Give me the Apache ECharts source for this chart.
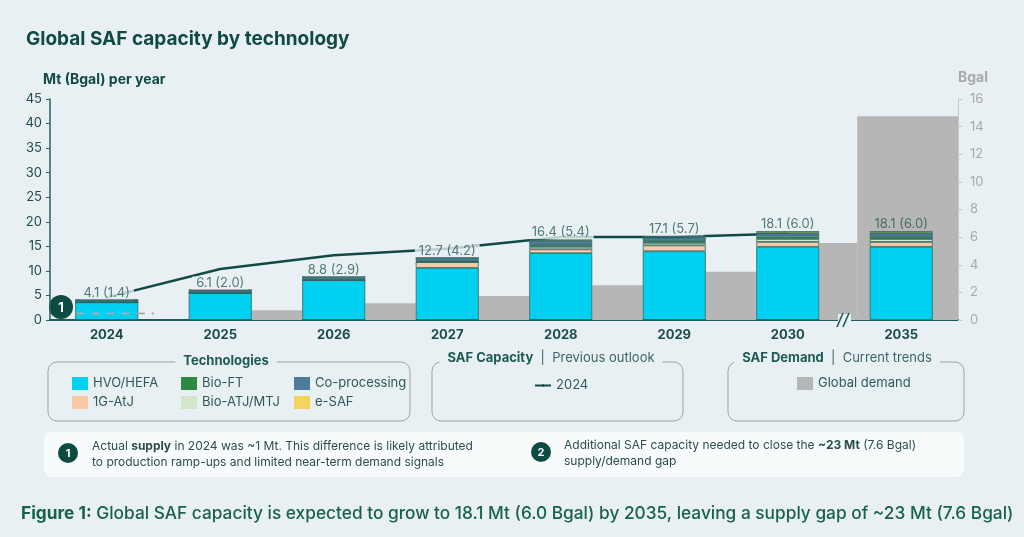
<!DOCTYPE html>
<html>
<head>
<meta charset="utf-8">
<script src="https://cdn.jsdelivr.net/npm/echarts@6/dist/echarts.min.js"></script>
<style>
  html, body { margin: 0; padding: 0; background: #e9f0f4; }
  #main { width: 1024px; height: 537px; }
</style>
</head>
<body>
<div id="main"></div>
<script>
// data (Mt unless noted)
var years = ['2024', '2025', '2026', '2027', '2028', '2029', '2030', '2035'];
var hvoHefa = [3.6, 5.5, 8.1, 10.6, 13.6, 14.0, 14.9, 14.9];
var atj1G = [0, 0, 0, 1.2, 0.8, 1.2, 1.0, 1.0];
var bioAtjMtj = [0, 0, 0, 0, 0.5, 0.5, 0.6, 0.6];
var bioFT = [0.1, 0.1, 0.1, 0.2, 0.4, 0.4, 0.5, 0.5];
var coProcessing = [0.4, 0.5, 0.6, 0.7, 0.8, 0.7, 0.7, 0.7];
var eSAF = [0, 0, 0, 0, 0.3, 0.3, 0.4, 0.4];
var capacityMt = [4.1, 6.1, 8.8, 12.7, 16.4, 17.1, 18.1, 18.1];
var capacityBgal = [1.4, 2.0, 2.9, 4.2, 5.4, 5.7, 6.0, 6.0];
var outlook2024 = [4.6, 10.4, 13.2, 14.5, 16.9, 16.9, 17.6, null];
var globalDemand = [null, 2.0, 3.4, 4.9, 7.1, 9.8, 15.7, 41.5];
var actualSupply2024 = 1.3;

var BG = '#e9f0f4';
var TEAL = '#0f4a43';
var GRAY = '#b6b6b6';
var BAR_W = 63;
var BREAK_OFF = 44;
var FONT = 'Inter, "Noto Sans", sans-serif';

var techs = [
  { name: 'HVO/HEFA', data: hvoHefa, color: '#00d0f2' },
  { name: '1G-AtJ', data: atj1G, color: '#f6c9a8' },
  { name: 'Bio-ATJ/MTJ', data: bioAtjMtj, color: '#d3e6c8' },
  { name: 'Bio-FT', data: bioFT, color: '#2b8a3e' },
  { name: 'Co-processing', data: coProcessing, color: '#4d7b9c' },
  { name: 'e-SAF', data: eSAF, color: '#f4d35e' }
];

var chart = echarts.init(document.getElementById('main'));

var series = [];

series.push({
  name: 'Global demand',
  type: 'custom',
  z: 1,
  itemStyle: { color: GRAY },
  encode: { x: 0, y: 1 },
  data: globalDemand.map(function (v, i) { return [i, v]; }),
  renderItem: function (params, api) {
    var i = api.value(0), v = api.value(1);
    if (v == null || isNaN(v)) return null;
    var top = api.coord([i, v]);
    var base = api.coord([i, 0]);
    var catW = api.size([1, 0])[0];
    var last = years.length - 1;
    var x0 = base[0] + BAR_W / 2;
    var x1 = base[0] + catW - BAR_W / 2;
    if (i === last - 1) x1 = base[0] + catW - BREAK_OFF;
    if (i === last) { x0 = base[0] - BREAK_OFF; x1 = base[0] + catW / 2; }
    return {
      type: 'rect',
      shape: { x: x0, y: top[1], width: x1 - x0, height: base[1] - top[1] },
      style: { fill: GRAY }
    };
  }
});

series.push({
  name: '2024',
  type: 'line',
  z: 2,
  symbol: 'none',
  data: outlook2024,
  lineStyle: { color: TEAL, width: 2.5 },
  itemStyle: { color: TEAL }
});

techs.forEach(function (t) {
  series.push({
    name: t.name,
    type: 'bar',
    stack: 'cap',
    z: 3,
    barWidth: BAR_W,
    data: t.data,
    itemStyle: { color: t.color, borderColor: '#2d6660', borderWidth: 0.8 }
  });
});

series.push({
  name: 'supply',
  type: 'custom',
  z: 4,
  silent: true,
  encode: { x: 0, y: 1 },
  data: [[0, actualSupply2024]],
  renderItem: function (params, api) {
    var p = api.coord([api.value(0), api.value(1)]);
    return {
      type: 'line',
      shape: { x1: p[0] - 30, y1: p[1], x2: p[0] + 47, y2: p[1] },
      style: { stroke: '#a9a9a9', lineWidth: 2, lineDash: [8, 7] }
    };
  }
});

series.push({
  name: 'labels',
  type: 'scatter',
  zlevel: 1,
  z: 5,
  silent: true,
  symbolSize: 1,
  itemStyle: { color: 'rgba(0,0,0,0)' },
  data: capacityMt.map(function (v, i) {
    // last label sits on the grey demand block, no backdrop there
    return i === years.length - 1 ? { value: v, label: { backgroundColor: 'transparent' } } : v;
  }),
  label: {
    show: true,
    position: 'top',
    distance: 0,
    color: '#2c5b56',
    fontSize: 13,
    fontFamily: FONT,
    backgroundColor: BG,
    padding: [0, 4],
    formatter: function (p) {
      return capacityMt[p.dataIndex].toFixed(1) + ' (' + capacityBgal[p.dataIndex].toFixed(1) + ')';
    }
  }
});

function box(x, y, w, h) {
  return {
    type: 'rect',
    shape: { x: x, y: y, width: w, height: h, r: 9 },
    style: { fill: 'none', stroke: '#9aa3a6', lineWidth: 1 }
  };
}

function boxTitle(cx, y, rich) {
  return {
    type: 'text',
    x: cx, y: y,
    style: {
      text: rich,
      align: 'center', verticalAlign: 'middle',
      backgroundColor: BG, padding: [0, 8],
      font: '13px ' + FONT,
      rich: {
        b: { fontWeight: 'bold', fontSize: 13, fill: '#1c5a52', fontFamily: FONT },
        n: { fontSize: 13, fill: '#3e6763', fontFamily: FONT }
      }
    }
  };
}

function badge(cx, cy, r, txt) {
  return {
    type: 'group',
    children: [
      { type: 'circle', shape: { cx: cx, cy: cy, r: r }, style: { fill: '#0c4b42' } },
      { type: 'text', x: cx, y: cy + 1, style: { text: txt, fill: '#fff', font: 'bold ' + (r + 1) + 'px ' + FONT, align: 'center', verticalAlign: 'middle' } }
    ]
  };
}

var noteRich = {
  n: { fontSize: 12, fill: '#2b4f4b', fontFamily: FONT, lineHeight: 16 },
  b: { fontSize: 12, fill: '#2b4f4b', fontFamily: FONT, fontWeight: 'bold', lineHeight: 16 }
};

function legendCol(left, top, names, extra) {
  return Object.assign({
    orient: 'vertical',
    left: left, top: top,
    icon: 'rect',
    itemWidth: 16,
    itemHeight: 13,
    itemGap: 6,
    selectedMode: false,
    itemStyle: { borderWidth: 0 },
    textStyle: { color: '#2f5a56', fontSize: 13, fontFamily: FONT },
    data: names
  }, extra || {});
}

var option = {
  backgroundColor: BG,
  animation: false,
  textStyle: { fontFamily: FONT },
  title: {
    text: 'Global SAF capacity by technology',
    left: 21, top: 25,
    textStyle: { color: TEAL, fontSize: 19, fontWeight: 'bold', fontFamily: FONT }
  },
  legend: [
    legendCol(67, 372, ['HVO/HEFA', '1G-AtJ']),
    legendCol(176, 372, ['Bio-FT', 'Bio-ATJ/MTJ']),
    legendCol(289, 372, ['Co-processing', 'e-SAF']),
    legendCol(529, 374, ['2024'], { icon: null, itemHeight: 3 }),
    legendCol(792, 372, ['Global demand'])
  ],
  grid: { left: 50, right: 66, top: 99, bottom: 217, containLabel: false },
  xAxis: {
    type: 'category',
    data: years,
    axisLine: { lineStyle: { color: '#1f5a54', width: 2 } },
    axisTick: { show: false },
    axisLabel: { color: '#1d4d48', fontSize: 13, fontWeight: 'bold', margin: 9, fontFamily: FONT }
  },
  yAxis: [
    {
      type: 'value', min: 0, max: 45, interval: 5,
      name: 'Mt (Bgal) per year',
      nameLocation: 'end',
      nameGap: 12,
      nameTextStyle: { color: TEAL, fontSize: 14, fontWeight: 'bold', align: 'left', padding: [0, 0, 0, -7], fontFamily: FONT },
      axisLine: { show: true, lineStyle: { color: '#2a615b', width: 1.5 } },
      axisTick: { show: true, length: 4, lineStyle: { color: '#2a615b' } },
      axisLabel: { color: '#1d4d48', fontSize: 13, margin: 8, fontFamily: FONT },
      splitLine: { show: false }
    },
    {
      type: 'value', min: 0, max: 16, interval: 2,
      position: 'right',
      name: 'Bgal',
      nameLocation: 'end',
      nameGap: 14,
      nameTextStyle: { color: '#a9a9a9', fontSize: 14, fontWeight: 'bold', align: 'left', padding: [0, 0, 0, 0], fontFamily: FONT },
      axisLine: { show: true, lineStyle: { color: '#c4c8ca', width: 1 } },
      axisTick: { show: true, length: 4, lineStyle: { color: '#c4c8ca' } },
      axisLabel: { color: '#a9a9a9', fontSize: 13, margin: 12, fontFamily: FONT },
      splitLine: { show: false }
    }
  ],
  series: series,
  graphic: [
    // axis break mark
    { type: 'rect', shape: { x: 838, y: 314, width: 13, height: 12 }, style: { fill: BG }, z: 100 },
    { type: 'line', shape: { x1: 837, y1: 327, x2: 843, y2: 313 }, style: { stroke: '#1f5a54', lineWidth: 1.6 }, z: 101 },
    { type: 'line', shape: { x1: 843, y1: 327, x2: 849, y2: 313 }, style: { stroke: '#1f5a54', lineWidth: 1.6 }, z: 101 },
    Object.assign(badge(61, 307, 12, '1'), { zlevel: 2 }),
    Object.assign(badge(905, 169, 12, '2'), { zlevel: 2 }),
    // legend boxes
    box(48, 362, 362, 59),
    boxTitle(226, 361, '{b|Technologies}'),
    box(432, 362, 251, 59),
    boxTitle(551, 358, '{b|SAF Capacity}{n|  |  Previous outlook}'),
    box(728, 362, 236, 59),
    boxTitle(837, 358, '{b|SAF Demand}{n|  |  Current trends}'),
    // notes panel
    { type: 'rect', shape: { x: 44, y: 432, width: 920, height: 45, r: 8 }, style: { fill: '#f8fbfc' } },
    badge(68, 453, 10, '1'),
    {
      type: 'text', x: 92, y: 454,
      style: {
        text: '{n|Actual }{b|supply}{n| in 2024 was ~1 Mt. This difference is likely attributed}\n{n|to production ramp-ups and limited near-term demand signals}',
        verticalAlign: 'middle', rich: noteRich
      }
    },
    badge(541, 452, 10, '2'),
    {
      type: 'text', x: 564, y: 453,
      style: {
        text: '{n|Additional SAF capacity needed to close the }{b|~23 Mt}{n| (7.6 Bgal)}\n{n|supply/demand gap}',
        verticalAlign: 'middle', rich: noteRich
      }
    },
    // caption
    {
      type: 'text', x: 21, y: 514,
      style: {
        text: '{b|Figure 1:}{n| Global SAF capacity is expected to grow to 18.1 Mt (6.0 Bgal) by 2035, leaving a supply gap of ~23 Mt (7.6 Bgal)}',
        verticalAlign: 'middle',
        rich: {
          b: { fontSize: 17.3, fontWeight: 'bold', fill: '#17614f', fontFamily: FONT },
          n: { fontSize: 17.3, fontWeight: 500, fill: '#17614f', fontFamily: FONT }
        }
      }
    }
  ]
};

chart.setOption(option);
</script>
</body>
</html>
